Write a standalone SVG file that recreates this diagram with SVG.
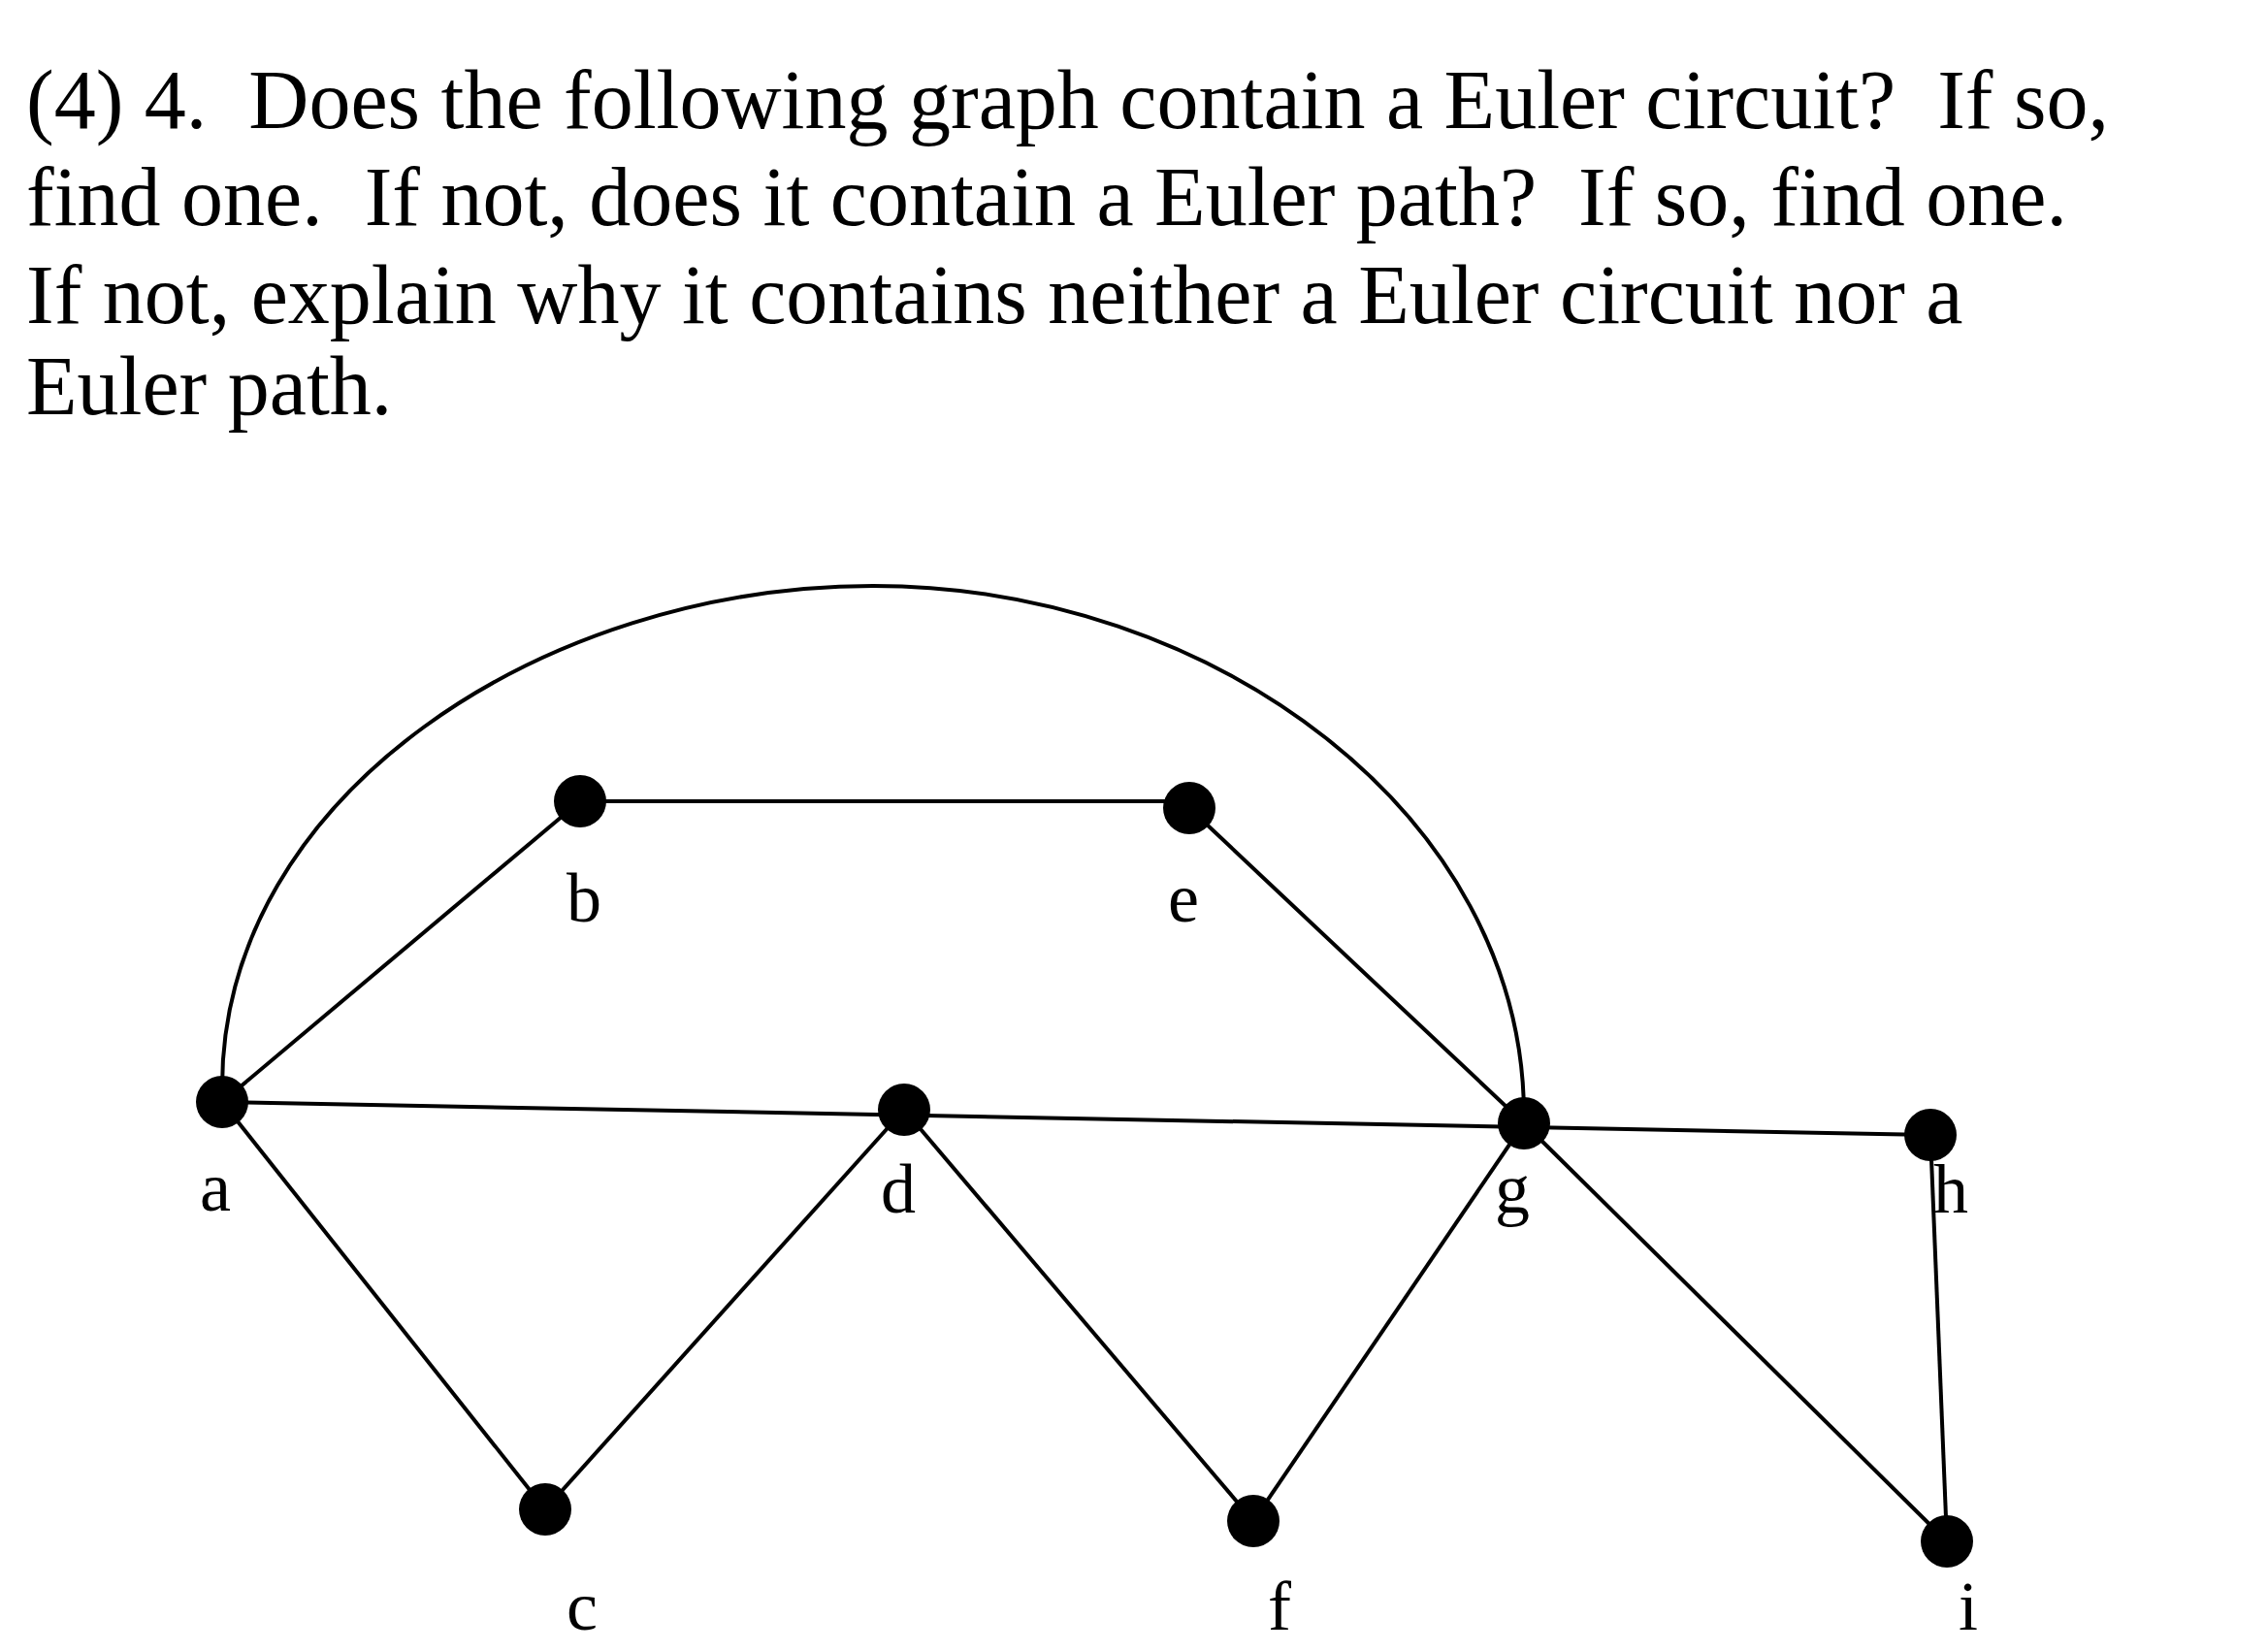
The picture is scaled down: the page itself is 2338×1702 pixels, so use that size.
<svg xmlns="http://www.w3.org/2000/svg" width="2338" height="1702" viewBox="0 0 2338 1702">
<style>
.t{font-family:"Liberation Serif",serif;font-size:86px;fill:#000}
.l{font-family:"Liberation Serif",serif;font-size:72px;fill:#000;text-anchor:middle}
.e{stroke:#000;stroke-width:4;fill:none}
.n{fill:#000}
</style>
<rect width="2338" height="1702" fill="#fff"/>
<g id="title">
<text class="t" x="27" y="132" xml:space="preserve">(4) 4.  Does the following graph contain a Euler circuit?  If so,</text>
<text class="t" x="27" y="232" xml:space="preserve">find one.  If not, does it contain a Euler path?  If so, find one.</text>
<text class="t" x="27" y="333" xml:space="preserve">If not, explain why it contains neither a Euler circuit nor a</text>
<text class="t" x="27" y="427" xml:space="preserve">Euler path.</text>
</g>
<g id="edges" class="e">
<path d="M229,1120 C229,820 560,604 900,604 C1250,604 1571,840 1571,1150"/>
<line x1="229" y1="1136" x2="598" y2="826"/>
<line x1="598" y1="826" x2="1226" y2="826"/>
<line x1="1226" y1="833" x2="1571" y2="1158"/>
<line x1="229" y1="1136" x2="1990" y2="1170"/>
<line x1="229" y1="1136" x2="562" y2="1556"/>
<line x1="562" y1="1556" x2="932" y2="1144"/>
<line x1="932" y1="1144" x2="1292" y2="1568"/>
<line x1="1292" y1="1568" x2="1571" y2="1158"/>
<line x1="1571" y1="1158" x2="2007" y2="1589"/>
<line x1="1990" y1="1170" x2="2007" y2="1589"/>
</g>
<g id="a"><circle class="n" cx="229" cy="1136" r="27"/><text class="l" x="222" y="1248">a</text></g>
<g id="b"><circle class="n" cx="598" cy="826" r="27"/><text class="l" x="602" y="950">b</text></g>
<g id="e"><circle class="n" cx="1226" cy="833" r="27"/><text class="l" x="1220" y="950">e</text></g>
<g id="d"><circle class="n" cx="932" cy="1144" r="27"/><text class="l" x="926" y="1250">d</text></g>
<g id="g"><circle class="n" cx="1571" cy="1158" r="27"/><text class="l" x="1559" y="1250">g</text></g>
<g id="h"><circle class="n" cx="1990" cy="1170" r="27"/><text class="l" x="2011" y="1250">h</text></g>
<g id="c"><circle class="n" cx="562" cy="1556" r="27"/><text class="l" x="600" y="1680">c</text></g>
<g id="f"><circle class="n" cx="1292" cy="1568" r="27"/><text class="l" x="1319" y="1680">f</text></g>
<g id="i"><circle class="n" cx="2007" cy="1589" r="27"/><text class="l" x="2029" y="1680">i</text></g>
</svg>
